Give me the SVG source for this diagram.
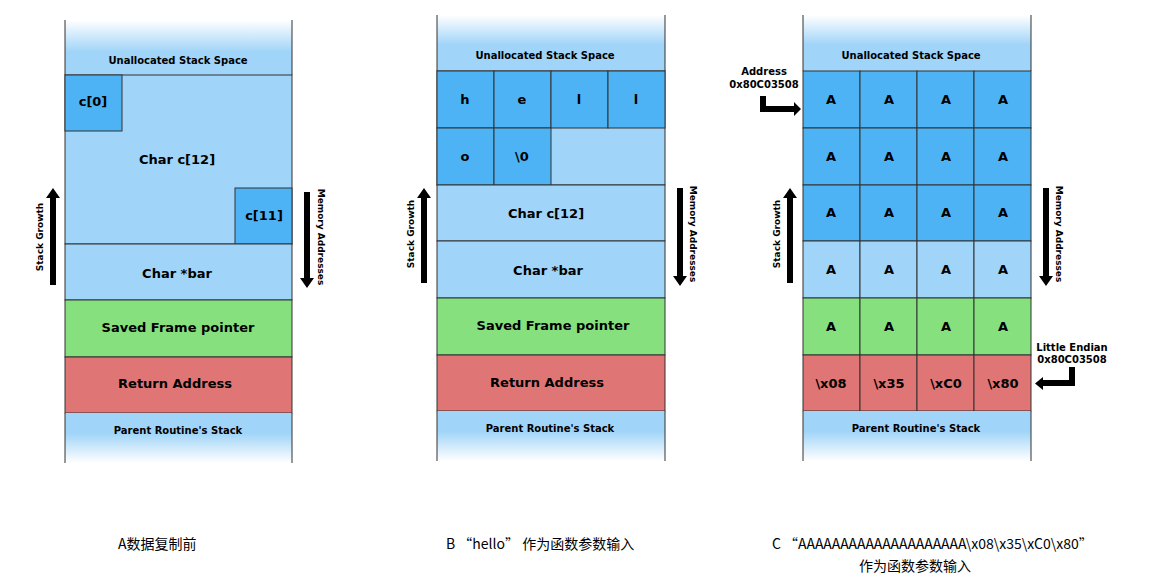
<svg xmlns="http://www.w3.org/2000/svg" width="1164" height="584" viewBox="0 0 1164 584">
<style>
text{font-family:"DejaVu Sans","Liberation Sans",sans-serif;font-weight:bold;fill:#000;text-anchor:middle;dominant-baseline:central}
.s{font-size:10px}.m{font-size:13px}.l{font-size:14px}.xs{font-size:9px}
.lb{fill:#a0d4f8;stroke:#333;stroke-width:1}
.db{fill:#4db3f5;stroke:#333;stroke-width:1}
.gr{fill:#86e07e;stroke:#333;stroke-width:1}
.rd{fill:#e07575;stroke:#333;stroke-width:1}
.cap{font-family:"Noto Sans CJK SC","Liberation Serif",serif;font-weight:normal;font-size:14px;text-anchor:start}
</style>
<defs>
<linearGradient id="ft" x1="0" y1="0" x2="0" y2="1"><stop offset="0" stop-color="#fff"/><stop offset="1" stop-color="#a0d4f8"/></linearGradient>
<linearGradient id="fb" x1="0" y1="0" x2="0" y2="1"><stop offset="0" stop-color="#a0d4f8"/><stop offset="1" stop-color="#fff"/></linearGradient>
</defs>
<rect width="1164" height="584" fill="#fff"/>
<g id="panelA">
<rect x="65" y="20" width="227" height="32" fill="url(#ft)"/>
<rect x="65" y="52" width="227" height="23" fill="#a0d4f8"/>
<line x1="65" y1="20" x2="65" y2="75" stroke="#333"/><line x1="292" y1="20" x2="292" y2="75" stroke="#333"/>
<text class="s" x="178" y="60">Unallocated Stack Space</text>
<rect class="lb" x="65" y="75" width="227" height="169"/>
<rect class="db" x="65" y="75" width="57" height="56"/><text class="m" x="93" y="101">c[0]</text>
<text class="m" x="177" y="159">Char c[12]</text>
<rect class="db" x="235" y="188" width="57" height="56"/><text class="m" x="264" y="215">c[11]</text>
<rect class="lb" x="65" y="244" width="227" height="56"/><text class="m" x="177" y="273">Char *bar</text>
<rect class="gr" x="65" y="300" width="227" height="57"/><text class="m" x="178" y="327">Saved Frame pointer</text>
<rect class="rd" x="65" y="357" width="227" height="56"/><text class="m" x="175" y="383">Return Address</text>
<rect x="65" y="413" width="227" height="20" fill="#a0d4f8"/><rect x="65" y="433" width="227" height="30" fill="url(#fb)"/>
<line x1="65" y1="413" x2="65" y2="463" stroke="#333"/><line x1="292" y1="413" x2="292" y2="463" stroke="#333"/>
<text class="s" x="178" y="430">Parent Routine's Stack</text>
</g>
<g id="panelB">
<rect x="437" y="15" width="228" height="30" fill="url(#ft)"/>
<rect x="437" y="45" width="228" height="26" fill="#a0d4f8"/>
<line x1="437" y1="15" x2="437" y2="71" stroke="#333"/><line x1="665" y1="15" x2="665" y2="71" stroke="#333"/>
<text class="s" x="545" y="55">Unallocated Stack Space</text>
<rect class="lb" x="437" y="71" width="228" height="114"/>
<rect class="db" x="437" y="71" width="57" height="57"/><text class="m" x="465" y="99">h</text>
<rect class="db" x="494" y="71" width="57" height="57"/><text class="m" x="522" y="99">e</text>
<rect class="db" x="551" y="71" width="57" height="57"/><text class="m" x="579" y="99">l</text>
<rect class="db" x="608" y="71" width="57" height="57"/><text class="m" x="636" y="99">l</text>
<rect class="db" x="437" y="128" width="57" height="57"/><text class="m" x="465" y="156">o</text>
<rect class="db" x="494" y="128" width="57" height="57"/><text class="m" x="522" y="156">\0</text>
<rect class="lb" x="437" y="185" width="228" height="56"/><text class="m" x="546" y="213">Char c[12]</text>
<rect class="lb" x="437" y="241" width="228" height="57"/><text class="m" x="548" y="270">Char *bar</text>
<rect class="gr" x="437" y="298" width="228" height="57"/><text class="m" x="553" y="325">Saved Frame pointer</text>
<rect class="rd" x="437" y="355" width="228" height="56"/><text class="m" x="547" y="382">Return Address</text>
<rect x="437" y="411" width="228" height="20" fill="#a0d4f8"/><rect x="437" y="431" width="228" height="30" fill="url(#fb)"/>
<line x1="437" y1="411" x2="437" y2="461" stroke="#333"/><line x1="665" y1="411" x2="665" y2="461" stroke="#333"/>
<text class="s" x="550" y="428">Parent Routine's Stack</text>
</g>
<g id="panelC">
<rect x="803" y="15" width="228" height="30" fill="url(#ft)"/>
<rect x="803" y="45" width="228" height="26" fill="#a0d4f8"/>
<line x1="803" y1="15" x2="803" y2="71" stroke="#333"/><line x1="1031" y1="15" x2="1031" y2="71" stroke="#333"/>
<text class="s" x="911" y="55">Unallocated Stack Space</text>
<g class="m">
<rect class="db" x="803" y="71" width="57" height="57"/><rect class="db" x="860" y="71" width="57" height="57"/><rect class="db" x="917" y="71" width="57" height="57"/><rect class="db" x="974" y="71" width="57" height="57"/>
<rect class="db" x="803" y="128" width="57" height="57"/><rect class="db" x="860" y="128" width="57" height="57"/><rect class="db" x="917" y="128" width="57" height="57"/><rect class="db" x="974" y="128" width="57" height="57"/>
<rect class="db" x="803" y="185" width="57" height="56"/><rect class="db" x="860" y="185" width="57" height="56"/><rect class="db" x="917" y="185" width="57" height="56"/><rect class="db" x="974" y="185" width="57" height="56"/>
<rect class="lb" x="803" y="241" width="57" height="57"/><rect class="lb" x="860" y="241" width="57" height="57"/><rect class="lb" x="917" y="241" width="57" height="57"/><rect class="lb" x="974" y="241" width="57" height="57"/>
<rect class="gr" x="803" y="298" width="57" height="57"/><rect class="gr" x="860" y="298" width="57" height="57"/><rect class="gr" x="917" y="298" width="57" height="57"/><rect class="gr" x="974" y="298" width="57" height="57"/>
<rect class="rd" x="803" y="355" width="57" height="56"/><rect class="rd" x="860" y="355" width="57" height="56"/><rect class="rd" x="917" y="355" width="57" height="56"/><rect class="rd" x="974" y="355" width="57" height="56"/>
</g>
<text class="m" x="831" y="99">A</text><text class="m" x="889" y="99">A</text><text class="m" x="946" y="99">A</text><text class="m" x="1003" y="99">A</text>
<text class="m" x="831" y="156">A</text><text class="m" x="889" y="156">A</text><text class="m" x="946" y="156">A</text><text class="m" x="1003" y="156">A</text>
<text class="m" x="831" y="212">A</text><text class="m" x="889" y="212">A</text><text class="m" x="946" y="212">A</text><text class="m" x="1003" y="212">A</text>
<text class="m" x="831" y="269">A</text><text class="m" x="889" y="269">A</text><text class="m" x="946" y="269">A</text><text class="m" x="1003" y="269">A</text>
<text class="m" x="831" y="326">A</text><text class="m" x="889" y="326">A</text><text class="m" x="946" y="326">A</text><text class="m" x="1003" y="326">A</text>
<text class="m" x="831" y="383">\x08</text><text class="m" x="889" y="383">\x35</text><text class="m" x="946" y="383">\xC0</text><text class="m" x="1003" y="383">\x80</text>
<rect x="803" y="411" width="228" height="20" fill="#a0d4f8"/><rect x="803" y="431" width="228" height="30" fill="url(#fb)"/>
<line x1="803" y1="411" x2="803" y2="461" stroke="#333"/><line x1="1031" y1="411" x2="1031" y2="461" stroke="#333"/>
<text class="s" x="916" y="428">Parent Routine's Stack</text>
<text class="s" x="764" y="71">Address</text>
<text class="s" x="764" y="84">0x80C03508</text>
<text class="s" x="1072" y="347">Little Endian</text>
<text class="s" x="1072" y="359">0x80C03508</text>
</g>
<g id="connectors" fill="#000">
<path d="M50,285 V198 H46 L53,188 L60,198 H56 V285 Z"/>
<path d="M304,192 V278 H300 L307,288 L314,278 H310 V192 Z"/>
<path d="M421,283 V198 H417 L424,188 L431,198 H427 V283 Z"/>
<path d="M677,188 V276 H673 L680,286 L687,276 H683 V188 Z"/>
<path d="M787,283 V198 H783 L790,188 L797,198 H793 V283 Z"/>
<path d="M1043,188 V276 H1039 L1046,286 L1053,276 H1049 V188 Z"/>
<path d="M760,96 H766 V106 H794 V102 L801,109 L794,116 V112 H760 Z"/>
<path d="M1069,367 H1075 V386 H1043 V390 L1035,383.5 L1043,377 V380 H1069 Z"/>
</g>
<g id="labels">
<text class="xs" transform="translate(40,237) rotate(-90)">Stack Growth</text>
<text class="xs" transform="translate(321,237) rotate(90)">Memory Addresses</text>
<text class="xs" transform="translate(411,234) rotate(-90)">Stack Growth</text>
<text class="xs" transform="translate(693,234) rotate(90)">Memory Addresses</text>
<text class="xs" transform="translate(777,234) rotate(-90)">Stack Growth</text>
<text class="xs" transform="translate(1059,234) rotate(90)">Memory Addresses</text>
<text class="cap" x="118" y="543">A数据复制前</text>
<text class="cap" x="446" y="543">B “hello” 作为函数参数输入</text>
<text class="cap" x="772" y="543">C “AAAAAAAAAAAAAAAAAAAA\x08\x35\xC0\x80”</text>
<text class="cap" x="859" y="565">作为函数参数输入</text>
</g>
</svg>
